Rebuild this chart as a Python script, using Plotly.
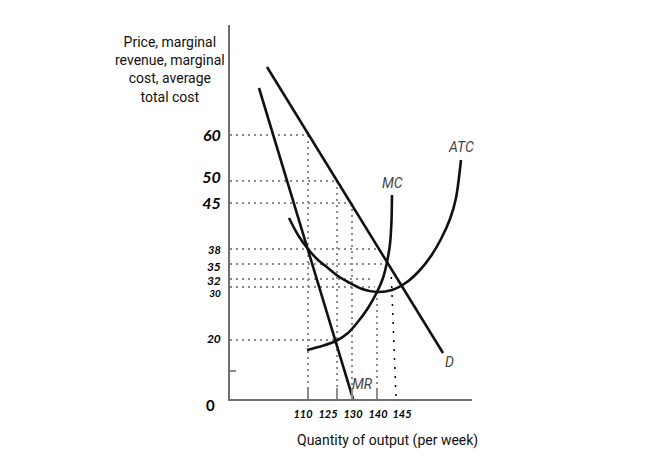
import plotly.graph_objects as go

# ---- data (hidden linear scale of the drawing; tick labels give the values) ----
d_q = [37, 213]
d_p = [332, 46]
mr_q = [29, 123]
mr_p = [311, 0]
mc_q = [77, 92, 106, 118, 127, 138, 147, 153, 157, 160, 161.5, 162]
mc_p = [49, 53, 58, 66, 76, 91, 107, 121, 137, 155, 178, 204]
atc_q = [59, 68, 78, 88, 98, 108, 118, 132, 147, 162, 177, 190, 201, 211, 220, 226, 231]
atc_p = [181, 164, 150, 139, 131, 123, 117, 110, 107, 109, 117, 129, 143, 160, 180, 201, 239]

# y tick labels and where they sit
y_labels = ["60", "50", "45", "38", "35", "32", "30", "20"]
y_label_pos = [264, 222, 196, 151, 134, 120, 108, 62]
y_label_size = [16, 16, 16, 11, 12, 12, 10, 12]

# x tick labels and where they sit
x_labels = ["110", "125", "130", "140", "145"]
x_label_pos = [73, 98, 123, 148, 172]

# guide lines: price levels and how far they reach
guide_p = [264, 218, 196, 150, 135, 120, 112, 59]
guide_p_reach = [78, 107, 122, 148, 155, 140, 145, 106]
# quantity guides and their top
guide_q = [78, 107, 122, 147]
guide_q_top = [264, 218, 196, 107]
# hand-drawn 145 guide
g145_q = [161, 166]
g145_p = [131, 1]

fig = go.Figure()

# dotted guides
gx, gy = [], []
for p, r in zip(guide_p, guide_p_reach):
    gx += [0, r, None]
    gy += [p, p, None]
for q, t in zip(guide_q, guide_q_top):
    gx += [q, q, None]
    gy += [t, 0, None]
fig.add_trace(go.Scatter(x=gx, y=gy, mode="lines",
                         line=dict(color="#8c8c8c", width=2, dash="2px,4px"),
                         hoverinfo="skip", showlegend=False))
fig.add_trace(go.Scatter(x=g145_q, y=g145_p, mode="lines",
                         line=dict(color="#000000", width=1.5, dash="2px,7px"),
                         hoverinfo="skip", showlegend=False))

curve_line = dict(color="#111111", width=2.6)
fig.add_trace(go.Scatter(x=d_q, y=d_p, mode="lines", line=curve_line, showlegend=False))
fig.add_trace(go.Scatter(x=mr_q, y=mr_p, mode="lines", line=curve_line, showlegend=False))
fig.add_trace(go.Scatter(x=mc_q, y=mc_p, mode="lines",
                         line=dict(curve_line, shape="spline", smoothing=0.8), showlegend=False))
fig.add_trace(go.Scatter(x=atc_q, y=atc_p, mode="lines",
                         line=dict(curve_line, shape="spline", smoothing=0.8), showlegend=False))

y_text = [f'<span style="font-size:{s}px">{t}</span>' for t, s in zip(y_labels, y_label_size)]

narrow = "Roboto, Liberation Sans, sans-serif"
tickfam = "Lato, Liberation Sans, sans-serif"

fig.update_layout(
    width=661, height=459,
    margin=dict(l=230, r=189, t=25, b=60),
    paper_bgcolor="white", plot_bgcolor="white",
    xaxis=dict(range=[0, 242], showgrid=False, zeroline=False,
               showline=True, linecolor="#6e6e6e", linewidth=2,
               tickmode="array", tickvals=x_label_pos, ticktext=x_labels,
               ticks="outside", ticklen=4, tickcolor="rgba(0,0,0,0)",
               tickfont=dict(family=tickfam, size=11, color="black", weight="bold", style="italic"),
               minor=dict(tickmode="array", tickvals=guide_q, ticks="inside",
                          ticklen=11, tickwidth=1.5, tickcolor="#8c8c8c"),
               fixedrange=True),
    yaxis=dict(range=[0, 374], showgrid=False, zeroline=False,
               showline=True, linecolor="#6e6e6e", linewidth=2,
               tickmode="array", tickvals=y_label_pos, ticktext=y_text,
               ticks="outside", ticklen=4, tickcolor="rgba(0,0,0,0)",
               tickfont=dict(family=tickfam, size=16, color="black", weight="bold", style="italic"),
               minor=dict(tickmode="array", tickvals=[28], ticks="inside",
                          ticklen=6, tickwidth=1.5, tickcolor="#8c8c8c"),
               fixedrange=True),
)

pw, ph = 661 - 230 - 189, 459 - 25 - 60


def px(xp):
    return (xp - 230) / pw


def py(yp):
    return (459 - 60 - yp) / ph


curve_font = dict(family=narrow, size=14, color="#444")
annos = [
    dict(x=px(210), y=py(405), xref="paper", yref="paper", xanchor="center", yanchor="middle",
         text="<b>0</b>", showarrow=False,
         font=dict(family=tickfam, size=15, color="black")),
    dict(x=231, y=252, xref="x", yref="y", text="<i>ATC</i>", showarrow=False, font=curve_font),
    dict(x=162, y=216, xref="x", yref="y", text="<i>MC</i>", showarrow=False, font=curve_font),
    dict(x=219, y=37, xref="x", yref="y", text="<i>D</i>", showarrow=False, font=curve_font),
    dict(x=132, y=15, xref="x", yref="y", text="<i>MR</i>", showarrow=False, font=curve_font),
    dict(x=px(170), y=py(69), xref="paper", yref="paper", xanchor="center", yanchor="middle",
         text="Price, marginal<br>revenue, marginal<br>cost, average<br>total cost",
         showarrow=False, align="center",
         font=dict(family=narrow, size=14, color="#111")),
    dict(x=px(387), y=py(440), xref="paper", yref="paper", xanchor="center", yanchor="middle",
         text="Quantity of output (per week)",
         showarrow=False, font=dict(family=narrow, size=14, color="#111")),
]
fig.update_layout(annotations=annos)

fig.write_html("out.html")
